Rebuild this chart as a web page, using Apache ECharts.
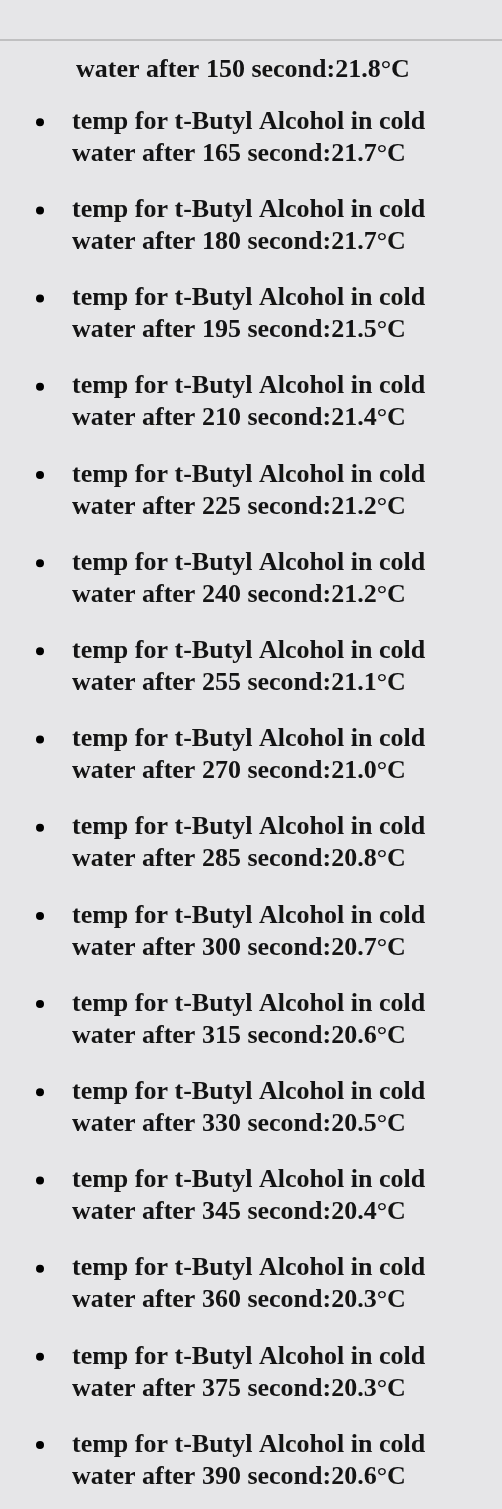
<!DOCTYPE html>
<html>
<head>
<meta charset="utf-8">
<script src="https://cdn.jsdelivr.net/npm/echarts@6/dist/echarts.min.js"></script>
<style>
html,body{margin:0;padding:0;background:#e6e6e8;}
#chart{width:502px;height:1509px;}
</style>
</head>
<body>
<div id="chart"></div>
<script>
// readings: seconds and temperature (°C)
var seconds = [150,165,180,195,210,225,240,255,270,285,300,315,330,345,360,375,390];
var temps = [21.8,21.7,21.7,21.5,21.4,21.2,21.2,21.1,21.0,20.8,20.7,20.6,20.5,20.4,20.3,20.3,20.6];

var data = [];
for (var i = 0; i < seconds.length; i++) {
    data.push([0, i, seconds[i], temps[i]]);
}

var myChart = echarts.init(document.getElementById('chart'));
myChart.setOption({
    backgroundColor: '#e6e6e8',
    animation: false,
    grid: {left: 40, right: 40, top: 34, bottom: 1509 - 34 - 1411},
    xAxis: {type: 'value', min: 0, max: 10, show: false},
    yAxis: {type: 'value', min: 0, max: 16, inverse: true, show: false},
    graphic: [{
        type: 'line',
        shape: {x1: 0, y1: 40, x2: 502, y2: 40},
        style: {stroke: '#9a9a9a', lineWidth: 1}
    }],
    series: [{
        type: 'scatter',
        symbol: 'circle',
        symbolSize: function (v) { return v[1] === 0 ? 0 : 8; },
        itemStyle: {color: '#000', opacity: 1},
        data: data,
        label: {
            show: true,
            position: [36, -12],
            align: 'left',
            verticalAlign: 'top',
            fontFamily: 'Liberation Serif',
            fontWeight: 'bold',
            fontSize: 26,
            lineHeight: 32,
            color: '#141414',
            opacity: 1,
            textBorderWidth: 0,
            formatter: function (p) {
                var line2 = 'water after ' + p.value[2] + ' second:' + p.value[3].toFixed(1) + '°C';
                if (p.value[1] === 0) return ' \n' + line2;
                return 'temp for t-Butyl Alcohol in cold\n' + line2;
            }
        },
        emphasis: {disabled: true}
    }]
});
</script>
</body>
</html>
